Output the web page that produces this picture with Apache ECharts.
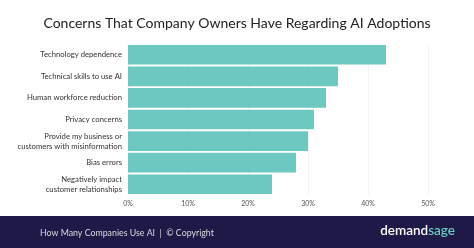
<!DOCTYPE html>
<html>
<head>
<meta charset="utf-8">
<script src="https://cdn.jsdelivr.net/npm/echarts@6/dist/echarts.min.js"></script>
<style>
  html, body { margin: 0; padding: 0; background: #fff; }
  #chart { width: 474px; height: 248px; }
</style>
</head>
<body>
<div id="chart"></div>
<script>
// categories top -> bottom
const concerns = [
    'Technology dependence',
    'Technical skills to use AI',
    'Human workforce reduction',
    'Privacy concerns',
    'Provide my business or\ncustomers with misinformation',
    'Bias errors',
    'Negatively impact\ncustomer relationships'
];
const shares = [43, 35, 33, 31, 30, 28, 24];
const tickValues = [0, 10, 20, 30, 40, 50];

const chart = echarts.init(document.getElementById('chart'));
const font = 'Lato, "Noto Sans", sans-serif';

chart.setOption({
    animation: false,
    title: {
        text: 'Concerns That Company Owners Have Regarding AI Adoptions',
        left: 'center',
        top: 11,
        textStyle: { fontFamily: font, fontSize: 14, fontWeight: 'normal', color: '#222' }
    },
    grid: { left: 128, right: 46, top: 44, bottom: 53 },
    xAxis: {
        type: 'value',
        min: tickValues[0],
        max: tickValues[tickValues.length - 1],
        interval: 10,
        axisLine: { show: false },
        axisTick: { show: false },
        splitLine: { lineStyle: { color: '#f3f3f3', width: 1 } },
        axisLabel: { formatter: '{value}%', fontFamily: font, fontSize: 7, color: '#555', margin: 5 }
    },
    yAxis: {
        type: 'category',
        inverse: true,
        data: concerns,
        axisLine: { show: false },
        axisTick: { show: false },
        axisLabel: { fontFamily: font, fontSize: 7.7, color: '#333', margin: 6, lineHeight: 10 }
    },
    series: [{
        type: 'bar',
        data: shares,
        barCategoryGap: '9%',
        itemStyle: { color: '#6cc8c1' }
    }],
    graphic: [
        { type: 'rect', left: 0, top: 216, shape: { width: 474, height: 32 }, style: { fill: '#1f1947' } },
        { type: 'text', left: 40, top: 229, style: { text: 'How Many Companies Use AI  |  © Copyright', fill: '#d8d8e0', font: '8.8px ' + font } },
        { type: 'text', right: 19, top: 224, style: {
            text: '{a|demand}{b|sage}',
            rich: {
                a: { fill: '#ffffff', font: '600 13.5px ' + font },
                b: { fill: '#6cc8c1', font: '600 13.5px ' + font }
            }
        } }
    ]
});
</script>
</body>
</html>
